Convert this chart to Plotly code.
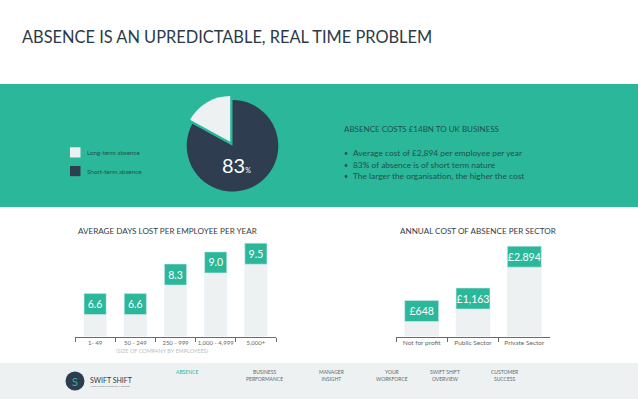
import plotly.graph_objects as go

W, H = 638, 399

# ---- data ----
pie_labels = ["Long-term absence", "Short-term absence"]
pie_values = [17, 83]

size_cats = ["1- 49", "50 - 249", "250 - 999", "1,000 - 4,999", "5,000+"]
days_lost = [6.6, 6.6, 8.3, 9.0, 9.5]
days_text = ["6.6", "6.6", "8.3", "9.0", "9.5"]

sector_cats = ["Not for profit", "Public Sector", "Private Sector"]
sector_cost = [648, 1163, 2894]
sector_text = ["£648", "£1,163", "£2.894"]

bullets = ["Average cost of £2,894 per employee per year",
           "83% of absence is of short term nature",
           "The larger the organisation, the higher the cost"]
menu = [("ABSENCE", ""), ("BUSINESS", "PERFORMANCE"), ("MANAGER", "INSIGHT"),
        ("YOUR", "WORKFORCE"), ("SWIFT SHIFT", "OVERVIEW"), ("CUSTOMER", "SUCCESS")]
menu_x = [187, 264, 332, 392, 445, 505]

# ---- styles ----
TEAL = "#2bb89a"
NAVY = "#2e3d4f"
LIGHT = "#edf1f1"
FONT = "Lato"
TXT_ON_TEAL = "#21504b"


def px(x):
    return x / W


def py(y):
    return 1 - y / H


fig = go.Figure()

# pie (dark slice first, clockwise from 12 o'clock, so the light slice ends at the top)
r = 45.8
pull = 0.1
cx, cy = 232.5, 145.8
half = r * (1 + pull)
fig.add_trace(go.Pie(
    labels=pie_labels[::-1], values=pie_values[::-1], sort=False, direction="clockwise",
    rotation=0, pull=[0, pull], textinfo="none", hoverinfo="skip", showlegend=False,
    marker=dict(colors=[NAVY, LIGHT], line=dict(width=0)),
    domain=dict(x=[px(cx - half), px(cx + half)], y=[py(cy + half), py(cy - half)]),
))

base_px = 336.5
top_px = 236.5
left_slope = 17.36
right_slope = 0.02418
l0 = 4.126
r0 = -841

# left bar chart
box_l = 1.21
fig.add_trace(go.Bar(x=size_cats, y=[v - l0 for v in days_lost], base=l0, marker_color=LIGHT,
                     xaxis="x", yaxis="y", width=0.55, hoverinfo="skip", showlegend=False))
fig.add_trace(go.Bar(x=size_cats, y=[box_l] * len(days_lost), base=[v - box_l for v in days_lost],
                     marker_color=TEAL, text=days_text, textposition="inside",
                     insidetextanchor="middle", constraintext="none", width=0.55,
                     textfont=dict(family=FONT, size=10.5, color="white"),
                     xaxis="x", yaxis="y", hoverinfo="skip", showlegend=False))

# right bar chart
box_r = 868
fig.add_trace(go.Bar(x=sector_cats, y=[v - r0 for v in sector_cost], base=r0, marker_color=LIGHT,
                     xaxis="x2", yaxis="y2", width=0.66, hoverinfo="skip", showlegend=False))
fig.add_trace(go.Bar(x=sector_cats, y=[box_r] * len(sector_cost), base=[v - box_r for v in sector_cost],
                     marker_color=TEAL, text=sector_text, textposition="inside",
                     insidetextanchor="middle", constraintext="none", width=0.66,
                     textfont=dict(family=FONT, size=10.5, color="white"),
                     xaxis="x2", yaxis="y2", hoverinfo="skip", showlegend=False))

xax = dict(type="category", showline=True, linecolor="#6a6a6a", linewidth=1,
           ticks="outside", tickson="boundaries", ticklen=4, tickcolor="#6a6a6a",
           tickangle=0, tickfont=dict(family=FONT, size=6, color="#666"),
           showgrid=False, zeroline=False, fixedrange=True)
yax = dict(visible=False, showgrid=False, zeroline=False, fixedrange=True)

shapes = [
    dict(type="rect", xref="paper", yref="paper", x0=0, x1=1, y0=py(207), y1=py(84),
         fillcolor=TEAL, line_width=0, layer="below"),
    dict(type="rect", xref="paper", yref="paper", x0=0, x1=1, y0=0, y1=py(363),
         fillcolor=LIGHT, line_width=0, layer="below"),
    # legend squares
    dict(type="rect", xref="paper", yref="paper", x0=px(70), x1=px(80.5), y0=py(157.5), y1=py(147.3),
         fillcolor=LIGHT, line_width=0),
    dict(type="rect", xref="paper", yref="paper", x0=px(70), x1=px(80.5), y0=py(176.2), y1=py(166),
         fillcolor=NAVY, line_width=0),
    # logo
    dict(type="circle", xref="paper", yref="paper", x0=px(65.5), x1=px(84.5), y0=py(390.5), y1=py(371.5),
         fillcolor=NAVY, line_width=0),
]

ann = []


def text(x, y, s, size, color, anchor="left", family=FONT, yanchor="middle"):
    ann.append(dict(x=px(x), y=py(y), xref="paper", yref="paper", text=s, showarrow=False,
                    xanchor=anchor, yanchor=yanchor,
                    font=dict(family=family, size=size, color=color)))


text(20, 36, "ABSENCE IS AN UPREDICTABLE, REAL TIME PROBLEM", 16.4, "#2c3a48")
text(85, 152.5, pie_labels[0], 6.3, TXT_ON_TEAL)
text(85, 171, pie_labels[1], 6.3, TXT_ON_TEAL)
text(236.5, 165, "83<span style='font-size:7px'>%</span>", 20, "white", anchor="center")
text(342, 129, "ABSENCE COSTS £14BN TO UK BUSINESS", 8.0, TXT_ON_TEAL)
for i, b in enumerate(bullets):
    yy = 153 + i * 11.6
    text(342, yy, "•", 7, TXT_ON_TEAL)
    text(351, yy, b, 8.4, TXT_ON_TEAL)
text(76, 231, "AVERAGE DAYS LOST PER EMPLOYEE PER YEAR", 8.1, "#333d44")
text(398, 231, "ANNUAL COST OF ABSENCE PER SECTOR", 8.1, "#333d44")
text(162.5, 350.5, "(SIZE OF COMPANY BY EMPLOYEES)", 5.5, "#b9c2c2", anchor="center")
# logo text
text(75, 381.5, "S", 11, TEAL, anchor="center")
text(88, 380, "SWIFT SHIFT", 7, "#2c3a48")
text(88, 386.5, "YOUR WORKFORCE CONNECTED", 2.5, "#6a7a80")
for (a, b), mx in zip(menu, menu_x):
    col = TEAL if a == "ABSENCE" else "#5e6b70"
    s = a if not b else a + "<br>" + b
    ann.append(dict(x=px(mx), y=py(367), xref="paper", yref="paper", text=s, showarrow=False,
                    xanchor="center", yanchor="top",
                    font=dict(family=FONT, size=5, color=col)))

fig.update_layout(
    width=W, height=H, margin=dict(l=0, r=0, t=0, b=0),
    paper_bgcolor="white", plot_bgcolor="rgba(0,0,0,0)",
    barmode="overlay", showlegend=False,
    xaxis=dict(xax, domain=[px(75), px(276)], anchor="y"),
    yaxis=dict(yax, domain=[py(base_px), py(top_px)], anchor="x",
               range=[l0, l0 + (base_px - top_px) / left_slope]),
    xaxis2=dict(xax, domain=[px(396), px(550)], anchor="y2",
                tickfont=dict(family=FONT, size=6.5, color="#666")),
    yaxis2=dict(yax, domain=[py(base_px), py(top_px)], anchor="x2",
                range=[r0, r0 + (base_px - top_px) / right_slope]),
    shapes=shapes, annotations=ann,
)

fig.write_html("out.html", config={"displayModeBar": False},
               post_script="document.body.style.margin='0';")
